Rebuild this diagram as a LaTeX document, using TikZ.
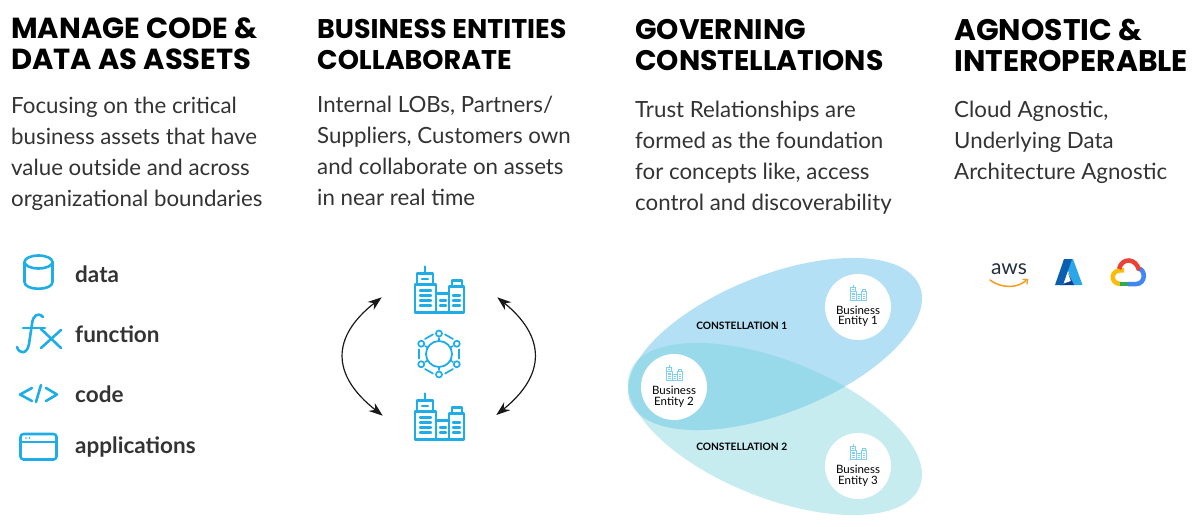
\documentclass[tikz,border=0pt]{standalone}
\usepackage{fontspec}
\setmainfont{Lato}
\newfontfamily\headfont{Poppins}
\usetikzlibrary{arrows.meta,calc}
\definecolor{iconblue}{HTML}{1FADE8}
\definecolor{softblue}{HTML}{7FD0F0}
\definecolor{bodygrey}{HTML}{333333}
\definecolor{consta}{HTML}{B3E0F5}
\definecolor{constb}{HTML}{C6ECF0}
\definecolor{constab}{HTML}{98D9EA}
\definecolor{azdark}{HTML}{0A5FB0}
\definecolor{azmid}{HTML}{0C3F8F}
\definecolor{azlight}{HTML}{2BA6E6}
\definecolor{awsink}{HTML}{252F3E}
\definecolor{awsorange}{HTML}{F79A1E}
\definecolor{gyellow}{HTML}{FBBC05}
\definecolor{ggreen}{HTML}{34A853}
\definecolor{gblue}{HTML}{4285F4}
\definecolor{gred}{HTML}{EA4335}
\tikzset{
  x=1pt,y=-1pt,
  heading/.style={anchor=north west,inner sep=0pt,align=left,text=black},
  bodytext/.style={anchor=north west,inner sep=0pt,align=left,text=bodygrey,
    font=\fontsize{22.3}{31}\selectfont},
  iconlabel/.style={anchor=west,inner sep=0pt,text=bodygrey,
    font=\bfseries\fontsize{22.5}{26}\selectfont},
  icon/.style={draw=iconblue,line width=2.6pt,line cap=round,line join=round},
  entity/.style={circle,fill=white,minimum size=66pt,inner sep=0pt},
  entitytext/.style={align=center,inner sep=0pt,text=black,
    font=\fontsize{11.5}{10.5}\selectfont},
  constlabel/.style={inner sep=0pt,text=black,font=\bfseries\fontsize{10.2}{11}\selectfont},
  link/.style={draw=black!90,line width=1.2pt,{Stealth[length=14pt,width=10pt]}-{Stealth[length=14pt,width=10pt]}},
  bld/.pic={
    \draw (0,0) rectangle (21,-28);
    \draw (2,-28) -- (2,-39) -- (18,-39) -- (18,-28);
    \draw (10,-39) -- (10,-46);
    \draw (21,-19) -- (34,-19);
    \draw (21,0) -- (49,0) -- (49,-26) -- (34,-26) -- (34,0);
    \draw (37,-26) -- (37,-32) -- (47,-32) -- (47,-26);
    \draw (7,-33.5) -- (13,-33.5);
    \foreach \yy in {-22,-17,-12,-7} {\draw (5,\yy) -- (16,\yy);}
    \foreach \yy in {-12,-7} {\draw (25,\yy) -- (31,\yy);}
    \foreach \yy in {-17,-12,-7} {\draw (38,\yy) -- (45,\yy);}
  },
}
\begin{document}
\begin{tikzpicture}
\useasboundingbox (0,0) rectangle (1200,527);

% headings and body text
\node[heading,font=\headfont\bfseries\fontsize{29}{31}\selectfont] (h1) at (11,18) {MANAGE CODE \&\\DATA AS ASSETS};
\node[heading,font=\headfont\bfseries\fontsize{27}{31}\selectfont] (h2) at (317,19) {BUSINESS ENTITIES\\COLLABORATE};
\node[heading,font=\headfont\bfseries\fontsize{28.3}{31}\selectfont] (h3) at (635,19) {GOVERNING\\CONSTELLATIONS};
\node[heading,font=\headfont\bfseries\fontsize{29.8}{31}\selectfont] (h4) at (954,19) {AGNOSTIC \&\\INTEROPERABLE};
\node[bodytext] (b1) at (11,97) {Focusing on the critical\\business assets that have\\value outside and across\\organizational boundaries};
\node[bodytext] (b2) at (317,96) {Internal LOBs, Partners/\\Suppliers, Customers own\\and collaborate on assets\\in near real time};
\node[bodytext] (b3) at (635,101) {Trust Relationships are\\formed as the foundation\\for concepts like, access\\control and discoverability};
\node[bodytext] (b4) at (954,101) {Cloud Agnostic,\\Underlying Data\\Architecture Agnostic};

% left icon list
\draw[icon] (24.5,262) -- (24.5,282) .. controls (24.5,291) and (52.5,291) .. (52.5,282) -- (52.5,262);
\draw[icon] (38.5,262) ellipse[x radius=14,y radius=6.5];
\draw[icon] (43,317) .. controls (38,312) and (33,315) .. (32,324) -- (29,344) .. controls (27,355) and (19,354) .. (17,347);
\draw[icon] (23,328) -- (45,328);
\draw[icon] (41,329) -- (61,348);
\draw[icon] (61,330) -- (41,348);
\draw[icon] (32,388) -- (20,394.5) -- (32,401);
\draw[icon] (41,385) -- (36,402);
\draw[icon] (46,388) -- (57,394.5) -- (46,401);
\draw[icon,rounded corners=3pt] (20.5,434) rectangle (56.5,459.5);
\draw[icon] (20.5,442) -- (56.5,442);
\fill[iconblue] (26,438) circle[radius=0.9] (29.5,438) circle[radius=0.9];
\node[iconlabel] (l1) at (75,274) {data};
\node[iconlabel] (l2) at (75,334) {function};
\node[iconlabel] (l3) at (75,394) {code};
\node[iconlabel] (l4) at (75,447) {applications};

% business entities
\pic[icon,line width=2.3pt] at (415,312.5) {bld};
\pic[icon,line width=2.3pt] at (415,439.5) {bld};
\coordinate (hub) at (439,354);
\draw[icon,line width=1.8pt] (hub) circle[radius=13];
\foreach \a in {30,90,150,210,270,330} {
  \draw[icon,line width=1.7pt] (hub) ++(\a:13) -- ++(\a:3);
  \draw[icon,line width=1.7pt] (hub) ++(\a:20.5) circle[radius=3];
  \draw[icon,line width=1.7pt] ($(hub)+(\a+17:20.5)$) -- ($(hub)+(\a+43:20.5)$);
}
\coordinate (la) at (381.7,297.3);
\coordinate (lb) at (382.7,415.7);
\coordinate (ra) at (497.3,297.3);
\coordinate (rb) at (496.3,415);
\draw[link] (la) .. controls (331,337) and (331,375) .. (lb);
\draw[link] (ra) .. controls (546,337) and (546,375) .. (rb);

% constellations
\fill[constb] (775,429) ellipse[x radius=155.8,y radius=68.8,rotate=-21.7];
\fill[consta] (775,344) ellipse[x radius=155.8,y radius=68.8,rotate=21.7];
\begin{scope}
  \clip (775,429) ellipse[x radius=155.8,y radius=68.8,rotate=-21.7];
  \fill[constab] (775,344) ellipse[x radius=155.8,y radius=68.8,rotate=21.7];
\end{scope}
\node[entity] (e1) at (858,307) {};
\node[entity] (e2) at (674,387) {};
\node[entity] (e3) at (858,466) {};
\pic[draw=softblue,line width=0.9pt,scale=0.33] at (850,300.5) {bld};
\pic[draw=softblue,line width=0.9pt,scale=0.33] at (666,380.5) {bld};
\pic[draw=softblue,line width=0.9pt,scale=0.33] at (850,459.5) {bld};
\node[entitytext] (t1) at (858,316.5) {Business\\Entity 1};
\node[entitytext] (t2) at (674,397) {Business\\Entity 2};
\node[entitytext] (t3) at (858,476) {Business\\Entity 3};
\node[constlabel] (c1) at (741.7,326) {CONSTELLATION 1};
\node[constlabel] (c2) at (741.7,447) {CONSTELLATION 2};

% cloud logos
\node[inner sep=0pt,text=awsink,font=\fontsize{21}{22}\selectfont] (aws) at (1009,269.5) {aws};
\draw[draw=awsorange,line width=1.5pt,line cap=round] (990,280) .. controls (1002,289) and (1018,288) .. (1026,280.5);
\draw[draw=awsorange,line width=1.3pt,line cap=round] (1023,279.5) -- (1027.5,279.5) -- (1027,284);
\fill[azlight] (1064,259) -- (1073,259) -- (1082.5,285) -- (1073,285) -- cycle;
\fill[azmid] (1068,273) -- (1074,285) -- (1060,285) -- (1071,281) -- cycle;
\fill[azdark] (1064,259) -- (1072,259) -- (1063,285) -- (1055,285) -- cycle;
\draw[draw=gyellow,line width=4.5pt] (1124,270.5) .. controls (1110,268) and (1109,284) .. (1121,284);
\draw[draw=ggreen,line width=4.5pt] (1120,284) -- (1129,284);
\draw[draw=gblue,line width=4.5pt] (1128,284) -- (1136,284) .. controls (1146,284) and (1146,269) .. (1138,268.5);
\draw[draw=gred,line width=4.5pt] (1119,269) .. controls (1122,257) and (1136,258) .. (1139,270);
\end{tikzpicture}
\end{document}
